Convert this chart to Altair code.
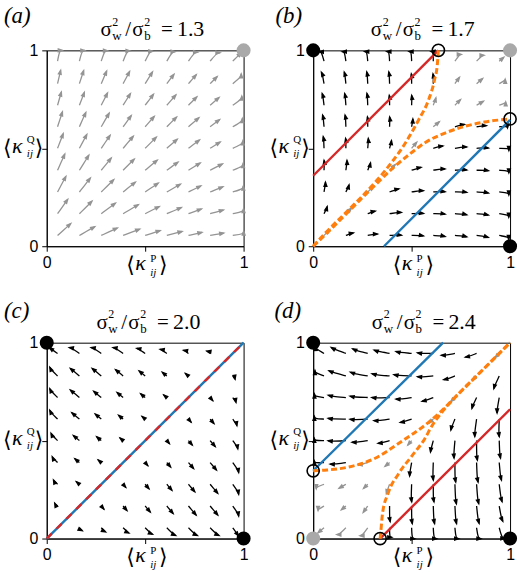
import math
import altair as alt
import pandas as pd

# ---------------- data ----------------
GRID = [0.055, 0.166, 0.277, 0.388, 0.5, 0.61, 0.72, 0.83, 0.945]   # arrow tails (x and y)

TAGS = ["(a)", "(b)", "(c)", "(d)"]
RATIOS = ["1.3", "1.7", "2.0", "2.4"]

# rows: y = GRID[0..8] (bottom -> top); cols: x = GRID[0..8]
# start angle (deg), turn (deg, end - start), length (hundredths), gray flag
A_ANG = [
    [42, 30, 25, 21, 18, 15, 13, 10, 8],
    [55, 45, 37, 31, 27, 23, 20, 16, 12],
    [62, 52, 45, 39, 34, 30, 26, 22, 17],
    [66, 58, 51, 45, 40, 36, 32, 27, 21],
    [69, 62, 56, 50, 45, 41, 37, 32, 25],
    [72, 66, 60, 54, 49, 45, 41, 37, 30],
    [74, 69, 63, 58, 53, 49, 45, 41, 35],
    [77, 72, 67, 62, 58, 53, 49, 45, 40],
    [80, 76, 72, 68, 64, 60, 55, 50, 45],
]
A_TURN = [
    [0, 0, 0, 0, 0, 0, 0, 0, 82],
    [0, 0, 0, 0, 0, 0, 0, 0, 78],
    [0, 0, 0, 0, 0, 0, 0, 0, 73],
    [0, 0, 0, 0, 0, 0, 0, 0, 69],
    [0, 0, 0, 0, 0, 0, 0, 0, 65],
    [0, 0, 0, 0, 0, 0, 0, 0, 60],
    [0, 0, 0, 0, 0, 0, 0, 0, 55],
    [0, 0, 0, 0, 0, 0, 0, 0, 50],
    [-80, -76, -72, -68, -64, -60, -55, -50, 0],
]
A_LEN = [
    [10, 10, 10, 10, 9, 9, 8, 8, 8],
    [10, 10, 10, 10, 9, 9, 8, 8, 8],
    [10, 10, 10, 9, 9, 9, 8, 8, 8],
    [10, 10, 9, 9, 9, 8, 8, 8, 8],
    [9, 9, 9, 9, 9, 8, 8, 7, 8],
    [9, 9, 9, 8, 8, 8, 8, 7, 8],
    [8, 8, 8, 8, 8, 8, 7, 7, 8],
    [8, 8, 8, 8, 8, 7, 7, 6, 8],
    [8, 8, 8, 8, 8, 8, 8, 8, 7],
]
A_GRAY = [
    [1, 1, 1, 1, 1, 1, 1, 1, 1],
    [1, 1, 1, 1, 1, 1, 1, 1, 1],
    [1, 1, 1, 1, 1, 1, 1, 1, 1],
    [1, 1, 1, 1, 1, 1, 1, 1, 1],
    [1, 1, 1, 1, 1, 1, 1, 1, 1],
    [1, 1, 1, 1, 1, 1, 1, 1, 1],
    [1, 1, 1, 1, 1, 1, 1, 1, 1],
    [1, 1, 1, 1, 1, 1, 1, 1, 1],
    [1, 1, 1, 1, 1, 1, 1, 1, 1],
]

B_ANG = [
    [45, 20, 10, 3, 0, -3, -5, -8, -10],
    [65, 45, 20, 8, 3, 0, -3, -5, -8],
    [80, 65, 45, 20, 8, 3, 0, -3, -5],
    [88, 82, 68, 45, 18, 8, 3, 0, -3],
    [92, 90, 85, 75, 50, 15, 8, 3, 0],
    [95, 92, 90, 88, 80, 40, 15, 8, 3],
    [97, 94, 92, 90, 88, 70, 45, 30, 20],
    [100, 96, 93, 92, 90, 90, 55, 40, 30],
    [105, 98, 95, 93, 92, 90, 55, 45, 40],
]
B_TURN = [
    [0, -8, -10, -10, -10, -10, -10, -10, -80],
    [10, 0, -8, -10, -10, -10, -10, -10, -82],
    [10, 10, 0, -8, -10, -10, -10, -10, -85],
    [10, 10, 10, 0, -8, -10, -10, -10, -87],
    [10, 10, 10, 8, 0, -8, -10, -10, -90],
    [10, 10, 10, 10, 8, 0, -8, -10, -93],
    [10, 10, 10, 10, 10, 5, 0, 0, 70],
    [15, 10, 10, 10, 10, 10, 0, 0, 60],
    [75, 82, 85, 87, 88, 90, -55, -45, 0],
]
B_LEN = [
    [5, 5, 6, 7, 7, 7, 7, 7, 7],
    [5, 5, 5, 7, 7, 7, 7, 7, 7],
    [6, 5, 5, 6, 7, 7, 7, 7, 7],
    [6, 6, 5, 5, 6, 7, 7, 7, 7],
    [7, 6, 6, 5, 5, 6, 7, 7, 7],
    [7, 7, 6, 6, 5, 5, 6, 6, 6],
    [7, 7, 7, 6, 6, 5, 5, 5, 5],
    [7, 7, 7, 7, 6, 6, 5, 5, 5],
    [7, 7, 7, 7, 7, 7, 6, 6, 4],
]
B_GRAY = [
    [1, 0, 0, 0, 0, 0, 0, 0, 0],
    [0, 1, 0, 0, 0, 0, 0, 0, 0],
    [0, 0, 1, 0, 0, 0, 0, 0, 0],
    [0, 0, 0, 1, 0, 0, 0, 0, 0],
    [0, 0, 0, 0, 1, 0, 0, 0, 0],
    [0, 0, 0, 0, 0, 1, 0, 0, 0],
    [0, 0, 0, 0, 0, 1, 1, 1, 1],
    [0, 0, 0, 0, 0, 0, 1, 1, 1],
    [0, 0, 0, 0, 0, 0, 1, 1, 1],
]

C_ANG = [
    [0, -45, -45, -45, -45, -45, -45, -45, -55],
    [135, 0, -50, -50, -50, -50, -50, -50, -55],
    [135, 140, 0, -50, -50, -50, -50, -50, -55],
    [135, 140, 140, 0, -50, -50, -50, -50, -55],
    [135, 140, 140, 140, 0, -50, -50, -50, -55],
    [135, 140, 140, 140, 140, 0, -50, -50, -55],
    [135, 140, 140, 140, 140, 140, 0, -50, -55],
    [135, 140, 140, 140, 140, 140, 140, 0, -55],
    [145, 145, 145, 145, 145, 145, 145, 145, 0],
]
C_TURN = [
    [0, 20, 20, 20, 20, 20, 20, 20, 0],
    [-20, 0, 0, 0, 0, 0, 0, 0, -25],
    [-20, 0, 0, 0, 0, 0, 0, 0, -25],
    [-20, 0, 0, 0, 0, 0, 0, 0, -25],
    [-20, 0, 0, 0, 0, 0, 0, 0, -25],
    [-20, 0, 0, 0, 0, 0, 0, 0, -25],
    [-20, 0, 0, 0, 0, 0, 0, 0, -25],
    [-20, 0, 0, 0, 0, 0, 0, 0, -25],
    [0, 25, 25, 25, 25, 25, 25, 25, 0],
]
C_LEN = [
    [0, 3, 4, 5, 6, 7, 7, 7, 6],
    [3, 0, 3, 4, 5, 6, 7, 7, 7],
    [4, 3, 0, 3, 4, 5, 6, 7, 7],
    [5, 4, 3, 0, 3, 4, 5, 6, 7],
    [6, 5, 4, 3, 0, 3, 4, 5, 6],
    [7, 6, 5, 4, 3, 0, 3, 4, 5],
    [7, 7, 6, 5, 4, 3, 0, 3, 4],
    [7, 7, 7, 6, 5, 4, 3, 0, 3],
    [6, 7, 7, 7, 6, 5, 4, 3, 0],
]
C_GRAY = [
    [0, 0, 0, 0, 0, 0, 0, 0, 0],
    [0, 0, 0, 0, 0, 0, 0, 0, 0],
    [0, 0, 0, 0, 0, 0, 0, 0, 0],
    [0, 0, 0, 0, 0, 0, 0, 0, 0],
    [0, 0, 0, 0, 0, 0, 0, 0, 0],
    [0, 0, 0, 0, 0, 0, 0, 0, 0],
    [0, 0, 0, 0, 0, 0, 0, 0, 0],
    [0, 0, 0, 0, 0, 0, 0, 0, 0],
    [0, 0, 0, 0, 0, 0, 0, 0, 0],
]

D_ANG = [
    [220, 225, 235, 270, 272, 273, 275, 278, 285],
    [210, 220, 235, 270, 270, 272, 273, 276, 280],
    [200, 210, 225, 250, 268, 270, 272, 274, 277],
    [183, 188, 195, 220, 260, 268, 270, 272, 275],
    [180, 183, 188, 195, 230, 255, 265, 270, 272],
    [177, 180, 183, 188, 198, 225, 248, 262, 268],
    [172, 175, 178, 182, 188, 200, 225, 245, 260],
    [160, 165, 170, 175, 178, 185, 200, 225, 245],
    [150, 160, 165, 170, 175, 180, 190, 200, 225],
]
D_TURN = [
    [0, -45, -55, 90, 88, 87, 85, 82, 75],
    [60, 0, 0, 10, 10, 10, 10, 10, 15],
    [70, 0, 0, 5, 10, 10, 10, 10, 10],
    [-93, -10, -8, 0, 8, 10, 10, 10, 10],
    [-90, -10, -10, -8, 0, 8, 10, 10, 10],
    [-87, -10, -10, -10, -8, 0, 10, 10, 10],
    [-82, -10, -10, -10, -10, -8, 0, 10, 10],
    [-70, -10, -10, -10, -10, -10, -8, 0, 10],
    [-55, -10, -10, -10, -10, -10, -10, -8, 0],
]
D_LEN = [
    [5, 7, 7, 7, 8, 8, 8, 8, 8],
    [5, 4, 5, 9, 10, 10, 10, 10, 9],
    [6, 5, 4, 6, 10, 10, 11, 11, 10],
    [7, 9, 6, 4, 8, 10, 11, 11, 10],
    [7, 10, 9, 7, 4, 7, 10, 11, 10],
    [7, 10, 10, 9, 7, 4, 7, 10, 10],
    [7, 10, 10, 10, 9, 7, 4, 7, 9],
    [7, 10, 10, 10, 10, 9, 7, 4, 8],
    [7, 9, 9, 9, 9, 9, 8, 7, 4],
]
D_GRAY = [
    [1, 1, 1, 0, 0, 0, 0, 0, 0],
    [1, 1, 1, 0, 0, 0, 0, 0, 0],
    [1, 1, 1, 1, 0, 0, 0, 0, 0],
    [0, 0, 1, 1, 0, 0, 0, 0, 0],
    [0, 0, 0, 0, 1, 0, 0, 0, 0],
    [0, 0, 0, 0, 0, 1, 0, 0, 0],
    [0, 0, 0, 0, 0, 0, 1, 0, 0],
    [0, 0, 0, 0, 0, 0, 0, 1, 0],
    [0, 0, 0, 0, 0, 0, 0, 0, 1],
]

# straight lines
B_RED_X, B_RED_Y = [0.0, 0.636], [0.36, 1.0]
B_BLUE_X, B_BLUE_Y = [0.36, 1.0], [0.0, 0.645]
C_DIAG_X, C_DIAG_Y = [0.0, 1.0], [0.0, 1.0]
D_BLUE_X, D_BLUE_Y = [0.0, 0.66], [0.346, 1.0]
D_RED_X, D_RED_Y = [0.34, 1.0], [0.0, 0.66]

# dashed separatrices
B_U_X = [0.0, 0.067, 0.151, 0.235, 0.318, 0.40, 0.47, 0.536, 0.586, 0.616, 0.631, 0.636]
B_U_Y = [0.0, 0.073, 0.157, 0.241, 0.33, 0.43, 0.53, 0.646, 0.747, 0.848, 0.933, 1.0]
B_L_X = [0.0, 0.067, 0.151, 0.235, 0.318, 0.40, 0.49, 0.57, 0.67, 0.77, 0.87, 1.0]
B_L_Y = [0.0, 0.064, 0.148, 0.233, 0.315, 0.395, 0.47, 0.53, 0.578, 0.612, 0.634, 0.65]
D_A_X = [0.0, 0.07, 0.18, 0.315, 0.433, 0.5, 0.567, 0.65, 0.72, 0.85, 1.0]
D_A_Y = [0.346, 0.35, 0.365, 0.41, 0.485, 0.53, 0.578, 0.65, 0.72, 0.85, 1.0]
D_B_X = [0.34, 0.343, 0.352, 0.38, 0.433, 0.5, 0.567, 0.6, 0.65, 0.72, 0.85, 1.0]
D_B_Y = [0.0, 0.03, 0.127, 0.23, 0.33, 0.42, 0.51, 0.57, 0.64, 0.72, 0.85, 1.0]

# fixed points
A_FP = {"gray": ([1.0], [1.0]), "black": ([], []), "open": ([], [])}
B_FP = {"gray": ([1.0], [1.0]), "black": ([0.0, 1.0], [1.0, 0.0]), "open": ([0.636, 1.0], [1.0, 0.65])}
C_FP = {"gray": ([], []), "black": ([0.0, 1.0], [1.0, 0.0]), "open": ([], [])}
D_FP = {"gray": ([0.0], [0.0]), "black": ([0.0, 1.0], [1.0, 0.0]), "open": ([0.0, 0.34], [0.346, 0.0])}

# ---------------- styling ----------------
BLACK = "#000000"
GRAYC = "#949494"
GRAYDOT = "#a9a9a9"
RED = "#d62728"
BLUE = "#1f77b4"
ORANGE = "#ff7f0e"
SERIF = "Liberation Serif"
BRACK = "DejaVu Serif"
SANS = "Liberation Sans"
HEAD = "M0,0L-0.75,2.1L0.75,2.1Z"

SCALE = alt.Scale(domain=[0, 1], nice=False, zero=False)
LABELS = "datum.value == 0 ? '0' : datum.value == 1 ? '1' : ''"
AX_COMMON = dict(values=[0, 0.5, 1], labelExpr=LABELS, grid=False, title=None, tickSize=5,
                 labelFlush=False, labelOverlap=False, labelFontSize=16, labelFont=SANS,
                 labelColor="black", domainColor="black", tickColor="black",
                 domainWidth=1, tickWidth=1)
XAX = alt.Axis(labelPadding=3, **AX_COMMON)
YAX = alt.Axis(labelPadding=4, **AX_COMMON)
X = alt.X("x:Q", scale=SCALE, axis=XAX)
Y = alt.Y("y:Q", scale=SCALE, axis=YAX)
COL = alt.Color("g:N", scale=alt.Scale(domain=["k", "g"], range=[BLACK, GRAYC]), legend=None)
ONE = pd.DataFrame({"v": [0]})

TAG_POS = [(-43, -28), (-38, -28), (-43, -25), (-39, -25)]
TITLE_X = [54, 58, 50, 59]


def arrow_tables(ang, turn, ln, gray):
    shafts, heads = [], []
    n = 0
    for r in range(9):
        for c in range(9):
            L = ln[r][c] / 100.0
            if L <= 0:
                continue
            a1 = math.radians(ang[r][c])
            e = ang[r][c] + turn[r][c]
            a2 = math.radians(e)
            x0, y0 = GRID[c], GRID[r]
            x1 = x0 + 0.7 * L * math.cos(a1)
            y1 = y0 + 0.7 * L * math.sin(a1)
            x2 = x1 + 0.3 * L * math.cos(a2)
            y2 = y1 + 0.3 * L * math.sin(a2)
            xs = x2 - 0.01 * math.cos(a2)
            ys = y2 - 0.01 * math.sin(a2)
            g = "g" if gray[r][c] else "k"
            for k, (px, py) in enumerate([(x0, y0), (x1, y1), (xs, ys)]):
                shafts.append({"id": n, "k": k, "x": px, "y": py, "g": g})
            heads.append({"x": x2, "y": y2, "rot": (90 - e) % 360, "g": g})
            n += 1
    return pd.DataFrame(shafts), pd.DataFrame(heads)


def txt(s, x, y, size, style="normal", font=SERIF):
    return alt.Chart(ONE).mark_text(text=s, fontSize=size, fontStyle=style, font=font,
                                    align="left", baseline="alphabetic", color="black").encode(
        x=alt.value(x), y=alt.value(y))


def text_layers(i):
    tx = TITLE_X[i]
    parts = [
        (TAGS[i], TAG_POS[i][0], TAG_POS[i][1], 23, "italic", SERIF),
        ("σ", tx, -14, 21, "normal", SERIF),
        ("2", tx + 12, -25, 12, "normal", SERIF),
        ("w", tx + 12, -10, 13, "normal", SERIF),
        ("/", tx + 25, -14, 21, "normal", SERIF),
        ("σ", tx + 32, -14, 21, "normal", SERIF),
        ("2", tx + 44, -25, 12, "normal", SERIF),
        ("b", tx + 44, -10, 13, "normal", SERIF),
        ("=", tx + 61, -14, 21, "normal", SERIF),
        (RATIOS[i], tx + 77, -14, 22, "normal", SERIF),
        ("⟨", -44, 105, 22, "normal", BRACK),
        ("κ", -35, 103, 22, "italic", SERIF),
        ("Q", -20, 93, 11, "normal", SERIF),
        ("ij", -20, 107, 11, "italic", SERIF),
        ("⟩", -12, 105, 22, "normal", BRACK),
        ("⟨", 80, 223, 22, "normal", BRACK),
        ("κ", 89, 221, 22, "italic", SERIF),
        ("P", 104, 213, 11, "normal", SERIF),
        ("ij", 104, 227, 11, "italic", SERIF),
        ("⟩", 113, 223, 22, "normal", BRACK),
    ]
    return [txt(s, x, y, sz, st, f) for (s, x, y, sz, st, f) in parts]


def panel(i, ang, turn, ln, gray, lines, curves, fp):
    shafts, heads = arrow_tables(ang, turn, ln, gray)
    layers = [
        alt.Chart(shafts).mark_line(strokeWidth=1.3, interpolate="basis").encode(
            x=X, y=Y, detail="id:N", order="k:Q", color=COL),
        alt.Chart(heads).mark_point(shape=HEAD, filled=True, size=40, opacity=1, strokeWidth=0).encode(
            x=X, y=Y, angle=alt.Angle("rot:Q", scale=None), color=COL),
    ]
    for xs, ys, color, dash in lines:
        df = pd.DataFrame({"x": xs, "y": ys, "k": list(range(len(xs)))})
        if dash:
            m = alt.Chart(df).mark_line(color=color, strokeWidth=2.4, strokeDash=dash)
        else:
            m = alt.Chart(df).mark_line(color=color, strokeWidth=2.4)
        layers.append(m.encode(x=X, y=Y, order="k:Q"))
    if curves:
        rows = []
        for cid, (xs, ys) in enumerate(curves):
            for k, (px, py) in enumerate(zip(xs, ys)):
                rows.append({"cid": cid, "k": k, "x": px, "y": py})
        layers.append(alt.Chart(pd.DataFrame(rows)).mark_line(
            color=ORANGE, strokeWidth=3, strokeDash=[6, 3], interpolate="monotone").encode(
            x=X, y=Y, detail="cid:N", order="k:Q"))
    if fp["black"][0]:
        layers.append(alt.Chart(pd.DataFrame({"x": fp["black"][0], "y": fp["black"][1]})).mark_point(
            shape="circle", filled=True, size=200, color=BLACK, opacity=1).encode(x=X, y=Y))
    if fp["gray"][0]:
        layers.append(alt.Chart(pd.DataFrame({"x": fp["gray"][0], "y": fp["gray"][1]})).mark_point(
            shape="circle", filled=True, size=200, color=GRAYDOT, opacity=1).encode(x=X, y=Y))
    if fp["open"][0]:
        layers.append(alt.Chart(pd.DataFrame({"x": fp["open"][0], "y": fp["open"][1]})).mark_point(
            shape="circle", filled=False, size=150, color=BLACK, strokeWidth=1.6, opacity=1).encode(x=X, y=Y))
    layers += text_layers(i)
    return alt.layer(*layers).properties(width=198, height=197)


pa = panel(0, A_ANG, A_TURN, A_LEN, A_GRAY, [], [], A_FP)
pb = panel(1, B_ANG, B_TURN, B_LEN, B_GRAY,
           [(B_RED_X, B_RED_Y, RED, None), (B_BLUE_X, B_BLUE_Y, BLUE, None)],
           [(B_U_X, B_U_Y), (B_L_X, B_L_Y)], B_FP)
pc = panel(2, C_ANG, C_TURN, C_LEN, C_GRAY,
           [(C_DIAG_X, C_DIAG_Y, BLUE, None), (C_DIAG_X, C_DIAG_Y, RED, [7, 7])],
           [], C_FP)
pd_ = panel(3, D_ANG, D_TURN, D_LEN, D_GRAY,
            [(D_BLUE_X, D_BLUE_Y, BLUE, None), (D_RED_X, D_RED_Y, RED, None)],
            [(D_A_X, D_A_Y), (D_B_X, D_B_Y)], D_FP)

chart = alt.concat(pa, pb, pc, pd_, columns=2, spacing={"row": 97, "column": 70}, bounds="flush").properties(
    padding={"left": 2, "top": 2, "right": 0, "bottom": 0}
).configure_view(stroke="black", strokeWidth=1)

chart.save("out.html", embed_options={"renderer": "svg", "actions": False})
